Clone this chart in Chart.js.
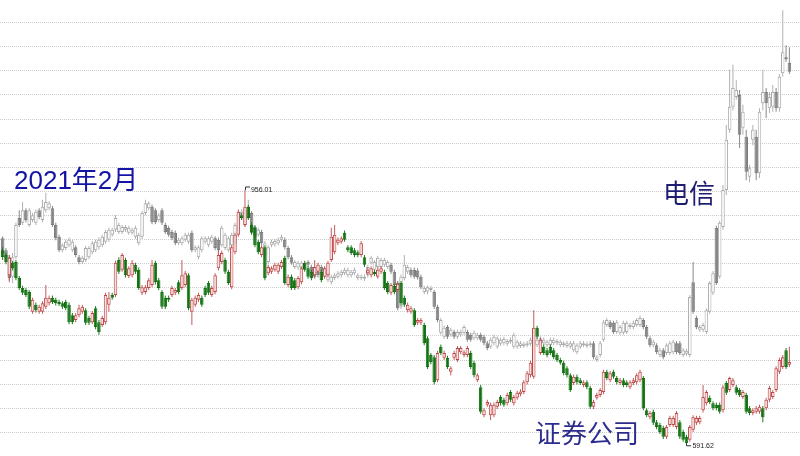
<!DOCTYPE html>
<html>
<head>
<meta charset="utf-8">
<script src="https://cdn.jsdelivr.net/npm/chart.js@4.4.1/dist/chart.umd.min.js"></script>
<style>
  html, body { margin: 0; padding: 0; background: #fff; }
  #wrap { width: 800px; height: 456px; }
</style>
</head>
<body>
<div id="wrap"><canvas id="chart" width="800" height="456"></canvas></div>
<script>
// 证券公司 index, daily candles from Feb 2021
const sOpen = [
  870, 863, 834, 852, 853, 830, 816, 813, 810, 782, 792, 782, 782, 789, 794, 802, 799, 796, 794, 796,
  792, 777, 770, 777, 782, 784, 773, 767, 787, 767, 763, 767, 792, 806, 806, 856, 842, 856, 833,
  834, 849, 842, 809, 810, 816, 820, 852, 827, 810, 802, 802, 806, 809, 824, 816, 820, 834, 782, 792,
  799, 802, 816, 823, 806, 810, 844, 853, 856, 839, 817, 867, 892, 920, 906, 932, 906, 902, 882,
  863, 874, 837, 839, 842, 839, 846, 859, 820, 832, 827, 817, 824, 852, 844, 839, 834, 839, 839, 832,
  834, 856, 867, 880, 882, 895, 874, 874, 870, 867, 863, 860, 837, 834, 839, 832, 839, 839, 823, 809,
  819, 813, 823,
  802, 784, 782, 784, 766, 766, 763, 744, 720, 717, 684, 732, 716, 716, 696, 716, 713, 724, 720, 720,
  723, 709, 684, 674, 634, 649, 634, 634, 646, 660, 656, 651, 667, 651, 659, 664, 667, 681, 691, 689,
  759, 723, 732, 727, 732, 727, 720, 713, 709, 701, 691, 680, 689, 684, 677, 681, 673, 646, 659, 663,
  667, 696, 684, 696, 687, 680, 684, 681, 674, 680, 681, 684, 687, 641, 631, 639, 624, 620, 616, 603,
  620, 620, 617, 624, 610, 603, 599, 613, 623, 624, 641, 651, 659, 651, 649, 649, 641, 680, 670, 677,
  674, 670, 660, 663, 644, 637, 639, 639, 644, 644, 656, 660, 670, 696, 703, 727, 706
];
const sHigh = [
  874, 866, 863, 855, 856, 833, 819, 816, 813, 802, 795, 792, 797, 820, 805, 805, 802, 799, 797, 799,
  795, 780, 780, 792, 792, 787, 776, 783, 790, 770, 776, 809, 810, 809, 855, 860, 866, 859, 847,
  856, 852, 845, 820, 820, 830, 856, 855, 830, 813, 805, 805, 819, 816, 827, 856, 840, 837, 802, 805,
  809, 805, 819, 826, 819, 837, 870, 869, 859, 842, 877, 895, 928, 923, 956.01, 935, 909, 905, 885,
  877, 877, 849, 847, 852, 852, 856, 862, 835, 835, 830, 833, 847, 855, 847, 842, 856, 852, 842, 847,
  855, 902, 906, 888, 890, 898, 877, 877, 873, 870, 883, 863, 845, 847, 842, 845, 847, 842, 826, 823,
  822, 825, 826,
  805, 795, 790, 787, 773, 773, 766, 747, 723, 720, 726, 735, 726, 719, 704, 726, 733, 733, 727, 733,
  726, 712, 694, 677, 644, 656, 652, 652, 656, 663, 659, 666, 670, 663, 669, 671, 684, 697, 712, 784,
  762, 745, 735, 730, 735, 730, 723, 716, 712, 704, 694, 692, 692, 687, 684, 684, 676, 656, 666, 673,
  699, 699, 697, 699, 690, 687, 687, 684, 684, 687, 694, 699, 690, 644, 640, 642, 627, 623, 619, 620,
  633, 633, 640, 627, 613, 606, 620, 634, 633, 633, 677, 670, 662, 654, 652, 652, 677, 683, 689, 687,
  677, 673, 670, 666, 647, 644, 647, 649, 647, 659, 676, 670, 704, 716, 720, 730, 732
];
const sLow = [
  856, 850, 824, 841, 827, 813, 806, 803, 786, 779, 781, 779, 779, 786, 791, 793, 791, 790, 786, 784,
  764, 764, 767, 774, 779, 763, 763, 764, 757, 749, 760, 764, 782, 799, 803, 836, 839, 831, 830,
  831, 836, 813, 806, 807, 813, 817, 821, 813, 786, 786, 796, 803, 806, 807, 813, 817, 784, 763, 789,
  796, 789, 803, 806, 803, 807, 841, 850, 836, 820, 814, 864, 889, 913, 903, 913, 892, 874, 864,
  860, 827, 834, 836, 839, 836, 843, 820, 817, 813, 813, 814, 821, 839, 829, 827, 831, 836, 824, 829,
  831, 853, 864, 877, 879, 882, 867, 863, 860, 860, 860, 846, 834, 831, 833, 829, 836, 813, 807, 806,
  807, 810, 791,
  789, 781, 779, 760, 763, 763, 734, 700, 707, 678, 681, 720, 713, 700, 691, 713, 710, 721, 717, 717,
  700, 688, 681, 636, 631, 646, 627, 631, 643, 648, 646, 648, 653, 648, 656, 661, 664, 678, 688, 686,
  743, 720, 720, 717, 720, 714, 710, 706, 691, 688, 667, 677, 678, 677, 674, 671, 643, 643, 656, 660,
  664, 684, 681, 686, 678, 677, 674, 674, 671, 677, 678, 681, 641, 631, 628, 620, 614, 607, 600, 600,
  617, 617, 614, 600, 596, 591.62, 596, 610, 620, 621, 638, 648, 650, 641, 641, 636, 638, 663, 667, 674,
  663, 660, 657, 636, 634, 634, 636, 636, 624, 641, 653, 657, 667, 693, 700, 700, 703
];
const sClose = [
  860, 853, 859, 844, 830, 816, 809, 806, 789, 799, 784, 789, 794, 802, 802, 796, 794, 793, 789, 787,
  767, 767, 777, 787, 789, 766, 766, 780, 760, 753, 773, 806, 802, 802, 852, 839, 863, 834, 844,
  852, 839, 816, 817, 817, 827, 849, 824, 816, 789, 789, 799, 816, 813, 810, 834, 837, 787, 799, 802,
  806, 792, 806, 809, 816, 834, 863, 866, 839, 823, 874, 892, 925, 916, 932, 916, 895, 877, 867,
  874, 830, 846, 844, 849, 849, 853, 823, 832, 816, 816, 830, 844, 842, 832, 830, 846, 849, 827, 844,
  852, 889, 892, 885, 887, 885, 870, 866, 863, 863, 880, 849, 842, 844, 836, 842, 844, 816, 810, 820,
  810, 822, 794,
  792, 792, 787, 763, 770, 770, 737, 703, 710, 681, 723, 723, 723, 703, 701, 723, 730, 730, 724, 730,
  703, 691, 691, 639, 641, 653, 649, 649, 653, 651, 649, 663, 656, 660, 666, 668, 681, 694, 709, 759,
  746, 742, 723, 720, 723, 717, 713, 709, 694, 691, 670, 689, 681, 680, 681, 674, 646, 653, 663, 670,
  696, 687, 694, 689, 681, 684, 677, 677, 681, 684, 691, 696, 644, 634, 637, 623, 617, 610, 603, 617,
  630, 630, 637, 603, 599, 594, 617, 631, 630, 630, 660, 667, 653, 644, 644, 639, 674, 666, 687, 684,
  666, 663, 667, 639, 637, 641, 644, 646, 631, 656, 673, 667, 701, 713, 717, 703, 710
];

// 电信 index, rebased onto the same scale
const tOpen = [
  887, 870, 860, 832, 860, 916, 909, 927, 906, 913, 909, 927, 913, 927, 930, 930, 906, 889, 870, 873,
  877, 870, 874, 860, 853, 856, 860, 867, 870, 874, 877, 882, 885, 892, 899, 896, 896, 899, 895,
  895, 889, 880, 889, 923, 930, 932, 927, 913, 927, 906, 902, 896, 895, 880, 880, 885, 882, 895, 870,
  860, 870, 882, 877, 882, 887, 885, 877, 873, 870, 877, 880, 899, 916, 906, 917, 923, 903, 892,
  896, 863, 853, 877, 878, 880, 885, 885, 873, 860, 846, 845, 844, 844, 853, 846, 839, 839, 846, 837,
  827, 824, 830, 832, 834, 837, 834, 834, 837, 830, 830, 829, 834, 852, 842, 846, 846, 849, 846, 849,
  839, 823, 789,
  830, 839, 842, 842, 841, 832, 810, 811, 813, 810, 789, 752, 746, 760, 749, 753, 746, 749, 752, 753,
  749, 744, 744, 749, 746, 737, 732, 737, 732, 736, 737, 736, 739, 732, 732, 733, 733, 734, 736, 737,
  734, 737, 737, 734, 734, 737, 737, 734, 734, 733, 732, 727, 724, 732, 734, 733, 734, 737, 713, 720,
  742, 763, 767, 766, 753, 752, 752, 753, 760, 760, 763, 763, 770, 760, 744, 734, 734, 720, 727, 723,
  723, 724, 737, 737, 720, 722, 720, 824, 773, 756, 756, 753, 782, 809, 902, 832, 903, 956, 1042, 1075,
  1089, 1092, 1045, 1032, 975, 1028, 1032, 980, 1080, 1096, 1073, 1075, 1096, 1073, 1123, 1146, 1138
];
const tHigh = [
  890, 873, 863, 866, 909, 927, 939, 930, 930, 923, 928, 930, 942, 952, 940, 933, 909, 892, 880, 885,
  888, 885, 877, 863, 862, 876, 876, 883, 885, 888, 892, 899, 902, 902, 920, 909, 906, 906, 905,
  902, 905, 895, 926, 942, 940, 935, 930, 923, 930, 909, 905, 899, 898, 888, 890, 895, 895, 898, 877,
  877, 890, 890, 890, 892, 890, 888, 905, 895, 890, 895, 909, 926, 928, 930, 942, 926, 906, 902,
  899, 883, 877, 885, 886, 888, 892, 888, 876, 863, 856, 855, 855, 852, 856, 849, 842, 842, 849, 847,
  840, 835, 837, 840, 842, 845, 845, 842, 845, 837, 835, 835, 849, 862, 856, 862, 859, 859, 856, 852,
  842, 826, 835,
  863, 849, 845, 845, 844, 835, 819, 819, 819, 813, 792, 773, 762, 763, 759, 756, 756, 756, 763, 756,
  752, 755, 752, 752, 749, 740, 745, 749, 747, 745, 746, 743, 745, 752, 742, 740, 739, 740, 745, 745,
  745, 747, 745, 742, 745, 745, 743, 742, 740, 740, 740, 740, 737, 740, 740, 739, 740, 740, 720, 740,
  770, 773, 770, 769, 770, 763, 769, 769, 766, 769, 773, 776, 773, 763, 747, 742, 737, 730, 730, 737,
  740, 742, 740, 740, 730, 729, 806, 853, 776, 763, 766, 787, 826, 840, 905, 912, 963, 1049, 1128, 1135,
  1113, 1099, 1078, 1042, 992, 1049, 1042, 1073, 1128, 1102, 1096, 1106, 1102, 1122, 1213, 1163, 1160
];
const tLow = [
  863, 856, 827, 823, 857, 903, 906, 910, 903, 910, 906, 914, 910, 924, 927, 903, 884, 867, 867, 870,
  874, 867, 860, 850, 850, 853, 857, 864, 867, 871, 874, 879, 882, 889, 896, 893, 893, 896, 892,
  892, 886, 877, 886, 920, 927, 907, 907, 910, 906, 893, 889, 884, 877, 877, 877, 882, 879, 867, 867,
  857, 867, 879, 874, 879, 870, 867, 874, 870, 867, 874, 877, 896, 913, 903, 914, 893, 886, 889,
  877, 860, 850, 874, 875, 877, 882, 871, 857, 849, 843, 842, 841, 841, 846, 834, 829, 831, 836, 834,
  824, 821, 827, 829, 831, 834, 831, 831, 834, 827, 827, 826, 831, 849, 839, 843, 843, 846, 843, 836,
  817, 784, 786,
  827, 836, 831, 829, 828, 814, 807, 807, 810, 786, 767, 749, 743, 743, 746, 743, 743, 746, 749, 739,
  739, 741, 741, 739, 734, 727, 729, 734, 729, 733, 734, 733, 736, 729, 729, 730, 730, 731, 733, 734,
  731, 734, 734, 731, 731, 734, 734, 731, 731, 730, 729, 724, 721, 729, 731, 730, 731, 714, 710, 717,
  739, 760, 757, 750, 750, 749, 749, 750, 757, 757, 760, 760, 757, 743, 731, 731, 721, 717, 714, 720,
  720, 721, 721, 720, 717, 719, 717, 779, 757, 753, 753, 750, 779, 806, 820, 829, 899, 949, 1038, 1070,
  1085, 1016, 1035, 970, 967, 1020, 970, 973, 1070, 1059, 1066, 1068, 1068, 1068, 1118, 1139, 1122
];
const tClose = [
  866, 859, 830, 860, 906, 906, 927, 913, 927, 920, 925, 917, 932, 939, 937, 906, 887, 870, 877, 882,
  885, 882, 863, 853, 859, 873, 873, 880, 882, 885, 889, 896, 899, 899, 916, 906, 903, 903, 902,
  899, 902, 892, 923, 937, 937, 910, 910, 920, 909, 896, 892, 887, 880, 885, 887, 892, 892, 870, 874,
  874, 887, 887, 887, 889, 873, 870, 902, 892, 887, 892, 906, 923, 925, 927, 932, 896, 889, 899,
  880, 880, 874, 882, 883, 885, 889, 874, 860, 852, 853, 852, 852, 849, 849, 837, 832, 834, 839, 844,
  837, 832, 834, 837, 839, 842, 842, 839, 842, 834, 832, 832, 846, 859, 853, 859, 856, 856, 853, 839,
  820, 787, 832,
  849, 846, 834, 832, 831, 817, 816, 817, 816, 789, 770, 770, 759, 746, 756, 746, 753, 753, 760, 742,
  742, 752, 749, 742, 737, 730, 742, 746, 744, 742, 743, 740, 742, 749, 739, 737, 736, 737, 742, 742,
  742, 744, 742, 739, 742, 742, 740, 739, 737, 737, 737, 737, 734, 737, 737, 736, 737, 717, 717, 737,
  767, 770, 760, 753, 767, 760, 766, 766, 763, 766, 770, 773, 760, 746, 734, 739, 724, 727, 717, 734,
  737, 739, 724, 723, 727, 726, 803, 782, 760, 760, 763, 784, 823, 837, 823, 909, 956, 1028, 1075, 1102,
  1099, 1035, 1068, 982, 987, 1042, 980, 1068, 1096, 1080, 1089, 1096, 1073, 1118, 1153, 1143, 1125
];

// dotted horizontal guide levels
const gridLevels = [1195.2, 1160.8, 1126.3, 1091.9, 1057.4, 1023.0, 988.5, 954.1, 919.6,
  885.2, 850.7, 816.3, 781.8, 747.4, 712.9, 678.5, 644.0, 609.6];

const days = sClose.map((_, i) => i);

function bodies(open, close) {
  return days.map(i => ({ x: i, y: [open[i], close[i]] }));
}
function wicks(low, high) {
  return days.map(i => ({ x: i, y: [low[i], high[i]] }));
}

const sUp = days.map(i => sClose[i] >= sOpen[i]);
const tUp = days.map(i => tClose[i] >= tOpen[i]);

const textPlugin = {
  id: 'texts',
  afterDatasetsDraw(chart) {
    const ctx = chart.ctx;
    const xs = chart.scales.x, ys = chart.scales.y;
    ctx.save();
    ctx.textBaseline = 'middle';
    ctx.textAlign = 'left';

    ctx.fillStyle = '#1414a4';
    ctx.font = '26px "Liberation Sans", Arial, "Noto Sans CJK SC", sans-serif';
    ctx.fillText('2021年2月', 14, 182);

    ctx.font = '26px "Noto Sans CJK SC", sans-serif';
    ctx.fillStyle = '#1d1d72';
    ctx.fillText('电信', 663, 193);
    ctx.fillStyle = '#2c2c8e';
    ctx.fillText('证券公司', 535, 433);

    // high / low marks on the securities candles
    const hi = Math.max(...sHigh), lo = Math.min(...sLow);
    const hx = xs.getPixelForValue(sHigh.indexOf(hi)), hy = ys.getPixelForValue(hi);
    const lx = xs.getPixelForValue(sLow.indexOf(lo)), ly = ys.getPixelForValue(lo);
    ctx.strokeStyle = '#333';
    ctx.lineWidth = 1;
    ctx.beginPath();
    ctx.moveTo(Math.round(hx) + 0.5, hy);
    ctx.lineTo(Math.round(hx) + 0.5, hy - 3);
    ctx.lineTo(Math.round(hx) + 5, hy - 3);
    ctx.moveTo(Math.round(lx) + 0.5, ly - 1);
    ctx.lineTo(Math.round(lx) + 0.5, ly + 1);
    ctx.lineTo(Math.round(lx) + 5, ly + 1);
    ctx.stroke();
    ctx.fillStyle = '#222';
    ctx.font = '7px "Liberation Sans", Arial, sans-serif';
    ctx.fillText(hi.toFixed(2), hx + 6, hy);
    ctx.fillText(lo.toFixed(2), lx + 6, ly + 1);
    ctx.restore();
  }
};

new Chart(document.getElementById('chart'), {
  type: 'bar',
  data: {
    datasets: [
      {
        label: '电信 影线',
        data: wicks(tLow, tHigh),
        backgroundColor: tUp.map(u => u ? '#b0b0b0' : '#888888'),
        barThickness: 1,
        inflateAmount: 0,
        grouped: false,
        order: 4
      },
      {
        label: '电信',
        data: bodies(tOpen, tClose),
        backgroundColor: tUp.map(u => u ? '#ffffff' : '#878787'),
        borderColor: tUp.map(u => u ? '#aaaaaa' : '#7a7a7a'),
        borderWidth: 1,
        borderSkipped: false,
        barThickness: 3.5,
        inflateAmount: 0,
        grouped: false,
        order: 3
      },
      {
        label: '证券公司 影线',
        data: wicks(sLow, sHigh),
        backgroundColor: sUp.map(u => u ? '#c45a5a' : '#1f7a1f'),
        barThickness: 1,
        inflateAmount: 0,
        grouped: false,
        order: 2
      },
      {
        label: '证券公司',
        data: bodies(sOpen, sClose),
        backgroundColor: sUp.map(u => u ? '#f8e2e2' : '#127212'),
        borderColor: sUp.map(u => u ? '#bf4646' : '#127212'),
        borderWidth: 1,
        borderSkipped: false,
        barThickness: 3.5,
        inflateAmount: 0,
        grouped: false,
        order: 1
      }
    ]
  },
  options: {
    responsive: false,
    animation: false,
    devicePixelRatio: 1,
    layout: { padding: 0 },
    plugins: { legend: { display: false }, tooltip: { enabled: false } },
    scales: {
      x: {
        type: 'linear',
        min: -0.8,
        max: 240.2,
        offset: false,
        display: false
      },
      y: {
        min: 575.62,
        max: 1227.7,
        ticks: { display: false },
        grid: { color: '#cdcdcd', lineWidth: 1, drawTicks: false },
        border: { display: false, dash: [1, 1] },
        afterBuildTicks: (scale) => { scale.ticks = gridLevels.map(v => ({ value: v })); },
        afterFit: (scale) => { scale.width = 0; }
      }
    }
  },
  plugins: [textPlugin]
});
</script>
</body>
</html>
